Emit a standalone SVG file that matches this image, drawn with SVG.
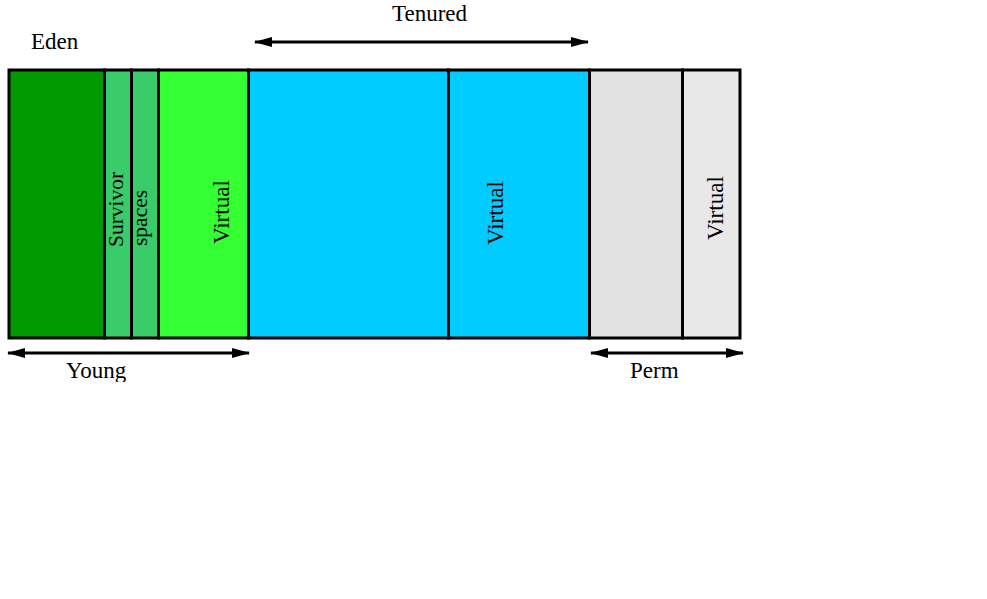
<svg xmlns="http://www.w3.org/2000/svg" width="987" height="599" viewBox="0 0 987 599">
<style>
text{font-family:"Liberation Serif","Times New Roman",serif;font-size:23px;fill:#000}
.v{font-size:23px}
.blk{stroke:#000;stroke-width:3}
.arr{stroke:#000;stroke-width:3;fill:none;marker-start:url(#ah);marker-end:url(#ah)}
</style>
<defs>
<marker id="ah" viewBox="0 0 18 10" refX="17" refY="5" markerWidth="18" markerHeight="10" markerUnits="userSpaceOnUse" orient="auto-start-reverse">
<path d="M0,0 L18,5 L0,10 Z" fill="#000"/>
</marker>
<clipPath id="cut"><rect x="0" y="0" width="987" height="382"/></clipPath>
</defs>
<rect width="987" height="599" fill="#fff"/>
<g id="eden"><rect class="blk" x="9" y="70" width="95.5" height="268" fill="#009900"/></g>
<g id="survivor1"><rect class="blk" x="104.5" y="70" width="27" height="268" fill="#3acb6a"/>
<text class="v" transform="translate(122.5,247) rotate(-90)" style="font-size:21.5px">Survivor</text></g>
<g id="survivor2"><rect class="blk" x="131.5" y="70" width="27" height="268" fill="#3acb6a"/>
<text class="v" transform="translate(147,246) rotate(-90)" style="font-size:21.5px">spaces</text></g>
<g id="young-virtual"><rect class="blk" x="158.5" y="70" width="90" height="268" fill="#33ff33"/>
<text class="v" transform="translate(229,244) rotate(-90)">Virtual</text></g>
<g id="tenured"><rect class="blk" x="248.5" y="70" width="200" height="268" fill="#00ccff"/></g>
<g id="tenured-virtual"><rect class="blk" x="448.5" y="70" width="141" height="268" fill="#00ccff"/>
<text class="v" transform="translate(503,245) rotate(-90)">Virtual</text></g>
<g id="perm"><rect class="blk" x="589.5" y="70" width="93" height="268" fill="#e1e1e1"/></g>
<g id="perm-virtual"><rect class="blk" x="682.5" y="70" width="57.5" height="268" fill="#e8e8e8"/>
<text class="v" transform="translate(723,240) rotate(-90)">Virtual</text></g>
<g id="connectors">
<line class="arr" x1="255" y1="42" x2="588" y2="42"/>
<line class="arr" x1="8" y1="353" x2="249" y2="353"/>
<line class="arr" x1="591" y1="353" x2="743" y2="353"/>
</g>
<g id="labels">
<text x="31" y="49">Eden</text>
<text x="392" y="21">Tenured</text>
<text x="66" y="378" clip-path="url(#cut)">Young</text>
<text x="630" y="378">Perm</text>
</g>
</svg>
